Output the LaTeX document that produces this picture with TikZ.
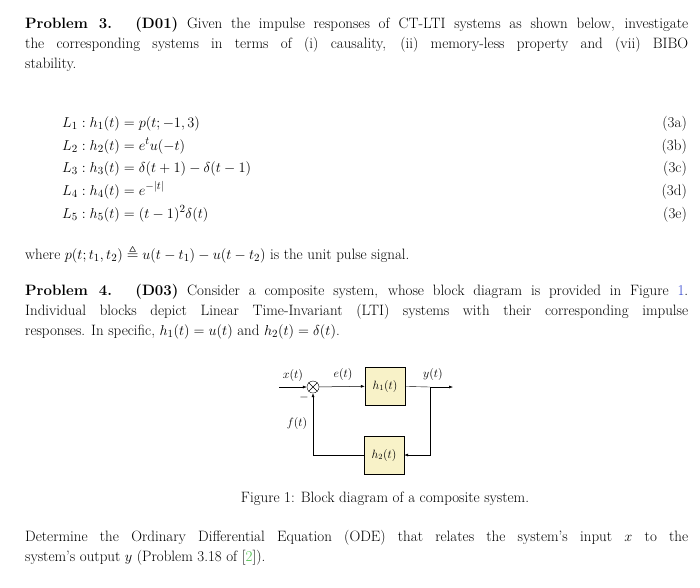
\documentclass[tikz,border=0pt]{standalone}
\usepackage{amsmath,amssymb}
\usetikzlibrary{arrows.meta}
\definecolor{boxfill}{HTML}{F8F2C8}
\definecolor{linkblue}{HTML}{2C3FD0}
\definecolor{linkgreen}{HTML}{4CC04C}
\begin{document}
\begin{tikzpicture}[x=1pt,y=-1pt,
  para/.style={anchor=north west,text width=663pt,align=justify,inner sep=0pt,font=\fontsize{15}{20}\selectfont},
  eq/.style={anchor=base west,inner sep=0pt,font=\fontsize{15}{17}\selectfont},
  tag/.style={anchor=base east,inner sep=0pt,font=\fontsize{15}{17}\selectfont},
  blk/.style={draw,fill=boxfill,minimum width=40pt,minimum height=38pt,inner sep=0pt,font=\fontsize{12}{14}\selectfont},
  lbl/.style={inner sep=0pt,font=\fontsize{12}{14}\selectfont},
  sig/.style={-{Latex[length=4pt,width=3pt]},line width=0.5pt}]
\useasboundingbox (0,0) rectangle (700,587);
\node[para] (p1) at (25,17) {\textbf{Problem 3. (D01)} Given the impulse responses of CT-LTI systems as shown below, investigate\linebreak the corresponding systems in terms of (i) causality, (ii) memory-less property and (vii) BIBO\linebreak stability.};
\node[eq] (e1) at (62,127) {$L_1: h_1(t)=p(t;-1,3)$};
\node[eq] (e2) at (62,150) {$L_2: h_2(t)=e^{t}u(-t)$};
\node[eq] (e3) at (62,172) {$L_3: h_3(t)=\delta(t+1)-\delta(t-1)$};
\node[eq] (e4) at (62,195) {$L_4: h_4(t)=e^{-|t|}$};
\node[eq] (e5) at (62,218) {$L_5: h_5(t)=(t-1)^2\delta(t)$};
\node[tag] (t1) at (687,127) {(3a)};
\node[tag] (t2) at (687,150) {(3b)};
\node[tag] (t3) at (687,172) {(3c)};
\node[tag] (t4) at (687,195) {(3d)};
\node[tag] (t5) at (687,218) {(3e)};
\node[eq] (w) at (25,259) {where $p(t;t_1,t_2)\triangleq u(t-t_1)-u(t-t_2)$ is the unit pulse signal.};
\node[para] (p2) at (25,284) {\textbf{Problem 4. (D03)} Consider a composite system, whose block diagram is provided in Figure~\textcolor{linkblue}{1}.\linebreak Individual blocks depict Linear Time-Invariant (LTI) systems with their corresponding impulse\linebreak responses. In specific, $h_1(t)=u(t)$ and $h_2(t)=\delta(t)$.};
% diagram
\coordinate (in) at (279,387);
\node[draw,circle,minimum size=12pt,inner sep=0pt] (sum) at (313,387) {};
\draw (sum.north west)--(sum.south east) (sum.north east)--(sum.south west);
\node[blk] (h1) at (385,386) {$h_1(t)$};
\node[blk] (h2) at (384,455) {$h_2(t)$};
\coordinate (br) at (430,387);
\coordinate (out) at (453,387);
\draw[sig] (in)--(sum);
\draw[sig] (sum)--(h1);
\draw (h1)--(br);
\draw[sig] (br)--(out);
\draw[sig] (br)|-(h2);
\draw[sig] (h2)-|(sum);
\node[lbl] (lx) at (293,375) {$x(t)$};
\node[lbl] (le) at (343,374) {$e(t)$};
\node[lbl] (ly) at (433,374) {$y(t)$};
\node[lbl] (lf) at (297,423) {$f(t)$};
\node[lbl] (lm) at (304,397) {$-$};
\node[eq,anchor=base] (cap) at (385,502) {Figure 1: Block diagram of a composite system.};
\node[para] (p3) at (25,530) {Determine the Ordinary Differential Equation (ODE) that relates the system's input $x$ to the\linebreak system's output $y$ (Problem 3.18 of [\textcolor{linkgreen}{2}]).};
\end{tikzpicture}
\end{document}
